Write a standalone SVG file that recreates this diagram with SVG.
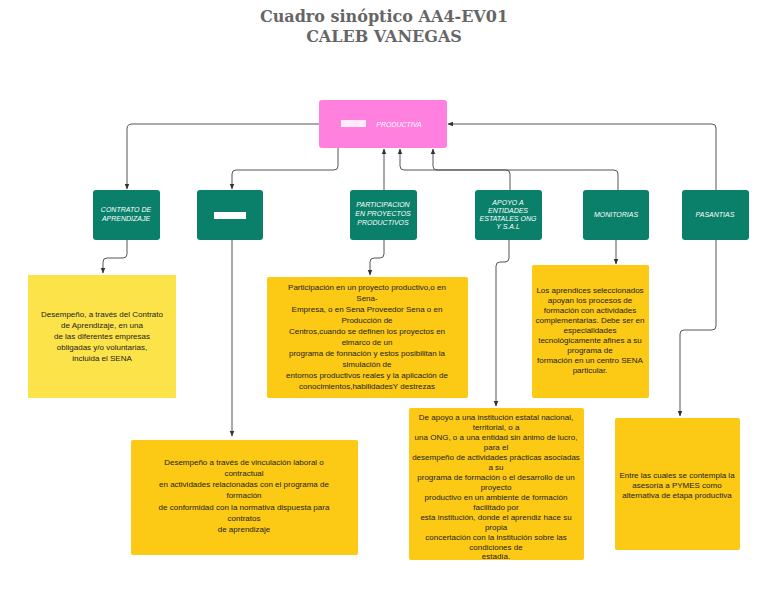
<svg xmlns="http://www.w3.org/2000/svg" width="768" height="594" viewBox="0 0 768 594">
<style>
.t{font-family:"DejaVu Serif",serif;font-weight:bold;font-size:16px;fill:#666;text-anchor:middle}
.g{fill:#0a7f6a}
.gt{font-family:"Liberation Sans",Arial,sans-serif;font-style:italic;font-size:7px;fill:#fff;text-anchor:middle}
.y{fill:#fcc915}
.yt{font-family:"Liberation Sans",Arial,sans-serif;font-size:8px;fill:#222;text-anchor:middle}
.c{fill:none;stroke:#555;stroke-width:1}
</style>
<defs><marker id="a" viewBox="0 0 10 10" refX="9" refY="5" markerWidth="6" markerHeight="6" orient="auto"><path d="M0,1 L10,5 L0,9z" fill="#333"/></marker></defs>
<rect width="768" height="594" fill="#fff"/>
<text class="t" x="384" y="22">Cuadro sinóptico  AA4-EV01</text>
<text class="t" x="384" y="42">CALEB VANEGAS</text>
<g id="connectors" class="c" marker-end="url(#a)">
<path d="M319,124 H132 Q127,124 127,129 V189"/>
<path d="M338,148 V166 Q338,170 334,170 H236 Q232,170 232,174 V189"/>
<path d="M384,190 V149"/>
<path d="M510,190 V174 Q510,170 506,170 H404 Q400,170 400,166 V149"/>
<path d="M618,190 V174 Q618,170 614,170 H437 Q433,170 433,166 V149"/>
<path d="M716,190 V128 Q716,124 712,124 H448"/>
<path d="M127,240 V254 Q127,258 123,258 H107 Q103,258 103,262 V273"/>
<path d="M232,240 V436"/>
<path d="M384,240 V254 Q384,258 380,258 H374 Q370,258 370,262 V275"/>
<path d="M509,240 V258 Q509,262 505,262 H500 Q496,262 496,266 V406"/>
<path d="M616,240 V264"/>
<path d="M716,240 V326 Q716,330 712,330 H684 Q680,330 680,334 V416"/>
</g>
<g id="root"><rect x="319" y="100" width="128" height="48" rx="3" fill="#ff80df"/><rect x="341" y="120" width="25" height="7" fill="#fff" opacity="0.85"/><text class="gt" x="399" y="127" font-size="8">PRODUCTIVA</text></g>
<g id="n1"><rect class="g" x="93" y="190" width="67" height="50" rx="3"/><text class="gt" x="126" y="212">CONTRATO DE</text><text class="gt" x="126" y="221">APRENDIZAJE</text></g>
<g id="n2"><rect class="g" x="197" y="190" width="66" height="50" rx="3"/><rect x="214" y="212" width="32" height="7" fill="#fff"/></g>
<g id="n3"><rect class="g" x="350" y="190" width="67" height="50" rx="3"/><text class="gt" x="383" y="207">PARTICIPACION</text><text class="gt" x="383" y="216">EN PROYECTOS</text><text class="gt" x="383" y="225">PRODUCTIVOS</text></g>
<g id="n4"><rect class="g" x="475" y="190" width="67" height="50" rx="3"/><text class="gt" x="508" y="205">APOYO A</text><text class="gt" x="508" y="213">ENTIDADES</text><text class="gt" x="508" y="221">ESTATALES ONG</text><text class="gt" x="508" y="229">Y S.A.L</text></g>
<g id="n5"><rect class="g" x="583" y="190" width="66" height="50" rx="3"/><text class="gt" x="616" y="217">MONITORIAS</text></g>
<g id="n6"><rect class="g" x="682" y="190" width="67" height="50" rx="3"/><text class="gt" x="715" y="217">PASANTIAS</text></g>
<g id="d1"><rect x="28" y="275" width="148" height="123" fill="#fde34a"/>
<text class="yt" x="102" y="317">Desempeño, a través del Contrato</text><text class="yt" x="102" y="328">de Aprendizaje, en una</text><text class="yt" x="102" y="339">de las diferentes empresas</text><text class="yt" x="102" y="350">obligadas y/o voluntarias,</text><text class="yt" x="102" y="361">incluida el SENA</text></g>
<g id="d2"><rect class="y" x="131" y="440" width="227" height="115" rx="2"/>
<text class="yt" font-size="9.5" x="244" y="465">Desempeño a través de vinculación laboral o</text><text class="yt" font-size="9.5" x="244" y="476">contractual</text><text class="yt" font-size="9.5" x="244" y="487">en actividades relacionadas con el programa de</text><text class="yt" font-size="9.5" x="244" y="498">formación</text><text class="yt" font-size="9.5" x="244" y="510">de conformidad con la normativa dispuesta para</text><text class="yt" font-size="9.5" x="244" y="521">contratos</text><text class="yt" font-size="9.5" x="244" y="532">de aprendizaje</text></g>
<g id="d3"><rect class="y" x="267" y="277" width="201" height="121" rx="2"/>
<text class="yt" x="367" y="290">Participación en un proyecto productivo,o en</text><text class="yt" x="367" y="301">Sena-</text><text class="yt" x="367" y="312">Empresa, o en Sena Proveedor Sena o en</text><text class="yt" x="367" y="323">Producción de</text><text class="yt" x="367" y="334">Centros,cuando se definen los proyectos en</text><text class="yt" x="367" y="345">elmarco de un</text><text class="yt" x="367" y="356">programa de fonnación y estos posibilitan la</text><text class="yt" x="367" y="367">simulación de</text><text class="yt" x="367" y="378">entornos productivos reales y la aplicación de</text><text class="yt" x="367" y="389">conocimientos,habilidadesY destrezas</text></g>
<g id="d5"><rect class="y" x="532" y="265" width="117" height="133" rx="2"/>
<g font-size="7"><text class="yt" font-size="7" x="590" y="293">Los aprendices seleccionados</text><text class="yt" font-size="7" x="590" y="303">apoyan los procesos de</text><text class="yt" font-size="7" x="590" y="313">formación con actividades</text><text class="yt" font-size="7" x="590" y="323">complementarias. Debe ser en</text><text class="yt" font-size="7" x="590" y="333">especialidades</text><text class="yt" font-size="7" x="590" y="343">tecnológicamente afines a su</text><text class="yt" font-size="7" x="590" y="353">programa de</text><text class="yt" font-size="7" x="590" y="363">formación en un centro SENA</text><text class="yt" font-size="7" x="590" y="373">particular.</text></g></g>
<g id="d4"><rect class="y" x="409" y="408" width="175" height="152" rx="2"/>
<text class="yt" font-size="7" x="496" y="420">De apoyo a una institución estatal nacional,</text><text class="yt" font-size="7" x="496" y="430">territorial, o a</text><text class="yt" font-size="7" x="496" y="440">una ONG, o a una entidad sin ánimo de lucro,</text><text class="yt" font-size="7" x="496" y="450">para el</text><text class="yt" font-size="7" x="496" y="460">desempeño de actividades prácticas asociadas</text><text class="yt" font-size="7" x="496" y="470">a su</text><text class="yt" font-size="7" x="496" y="480">programa de formación o el desarrollo de un</text><text class="yt" font-size="7" x="496" y="490">proyecto</text><text class="yt" font-size="7" x="496" y="500">productivo en un ambiente de formación</text><text class="yt" font-size="7" x="496" y="510">facilitado por</text><text class="yt" font-size="7" x="496" y="520">esta institución, donde el aprendiz hace su</text><text class="yt" font-size="7" x="496" y="530">propia</text><text class="yt" font-size="7" x="496" y="540">concertación con la institución sobre las</text><text class="yt" font-size="7" x="496" y="550">condiciones de</text><text class="yt" font-size="7" x="496" y="559">estadía.</text></g>
<g id="d6"><rect class="y" x="615" y="418" width="125" height="132" rx="2"/>
<text class="yt" font-size="7" x="677" y="478">Entre las cuales se contempla la</text><text class="yt" font-size="7" x="677" y="488">asesoría a PYMES como</text><text class="yt" font-size="7" x="677" y="498">alternativa de etapa productiva</text></g>
</svg>
